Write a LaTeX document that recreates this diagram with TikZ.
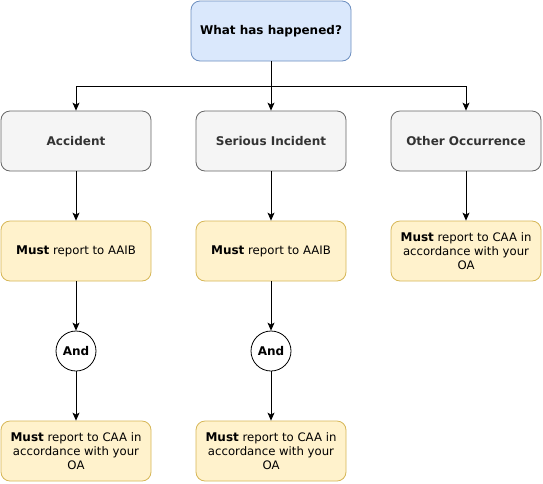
\documentclass[tikz,border=0pt]{standalone}
\usepackage{fontspec}
\setmainfont{DejaVu Sans}
\usetikzlibrary{arrows.meta}
\definecolor{bluef}{HTML}{DAE8FC}
\definecolor{blued}{HTML}{6C8EBF}
\definecolor{grayf}{HTML}{F5F5F5}
\definecolor{grayd}{HTML}{666666}
\definecolor{grayt}{HTML}{333333}
\definecolor{yelf}{HTML}{FFF2CC}
\definecolor{yeld}{HTML}{D6B656}
\newcommand{\bmust}{{\fontsize{12}{14}\selectfont\bfseries Must}}
\begin{document}
\begin{tikzpicture}[x=1pt,y=-1pt,
  base/.style={draw, rounded corners=9pt, line width=0.8pt, align=center, inner sep=0pt, font=\fontsize{11.7}{14}\selectfont},
  qbox/.style={base, fill=bluef, draw=blued, minimum width=160pt, minimum height=60pt, font=\fontsize{12}{14}\selectfont\bfseries},
  cbox/.style={base, fill=grayf, draw=grayd, text=grayt, minimum width=150pt, minimum height=60pt, font=\fontsize{12}{14}\selectfont\bfseries},
  rbox/.style={base, fill=yelf, draw=yeld, minimum width=150pt, minimum height=60pt},
  andc/.style={circle, draw, fill=white, line width=0.8pt, minimum size=40pt, inner sep=0pt, font=\fontsize{12}{14}\selectfont\bfseries},
  arr/.style={line width=0.8pt, -{Stealth[length=8pt,width=7pt,inset=2pt]}}]
\useasboundingbox (0,0) rectangle (543,483);
\node[qbox] (top) at (271,31) {What has happened?};
\node[cbox] (acc) at (76,141) {Accident};
\node[cbox] (ser) at (271,141) {Serious Incident};
\node[cbox] (oth) at (466,141) {Other Occurrence};
\node[rbox] (accr) at (76,251) {\bmust{} report to AAIB};
\node[rbox] (serr) at (271,251) {\bmust{} report to AAIB};
\node[rbox] (othr) at (466,251) {\bmust{} report to CAA in\\accordance with your\\OA};
\node[andc] (acca) at (76,351) {And};
\node[andc] (sera) at (271,351) {And};
\node[rbox] (accc) at (76,451) {\bmust{} report to CAA in\\accordance with your\\OA};
\node[rbox] (serc) at (271,451) {\bmust{} report to CAA in\\accordance with your\\OA};
\draw[arr] (top.south) -- ++(0,25) -| (acc.north);
\draw[arr] (top.south) -- (ser.north);
\draw[arr] (top.south) -- ++(0,25) -| (oth.north);
\draw[arr] (acc) -- (accr);
\draw[arr] (ser) -- (serr);
\draw[arr] (oth) -- (othr);
\draw[arr] (accr) -- (acca);
\draw[arr] (serr) -- (sera);
\draw[arr] (acca) -- (accc);
\draw[arr] (sera) -- (serc);
\end{tikzpicture}
\end{document}
